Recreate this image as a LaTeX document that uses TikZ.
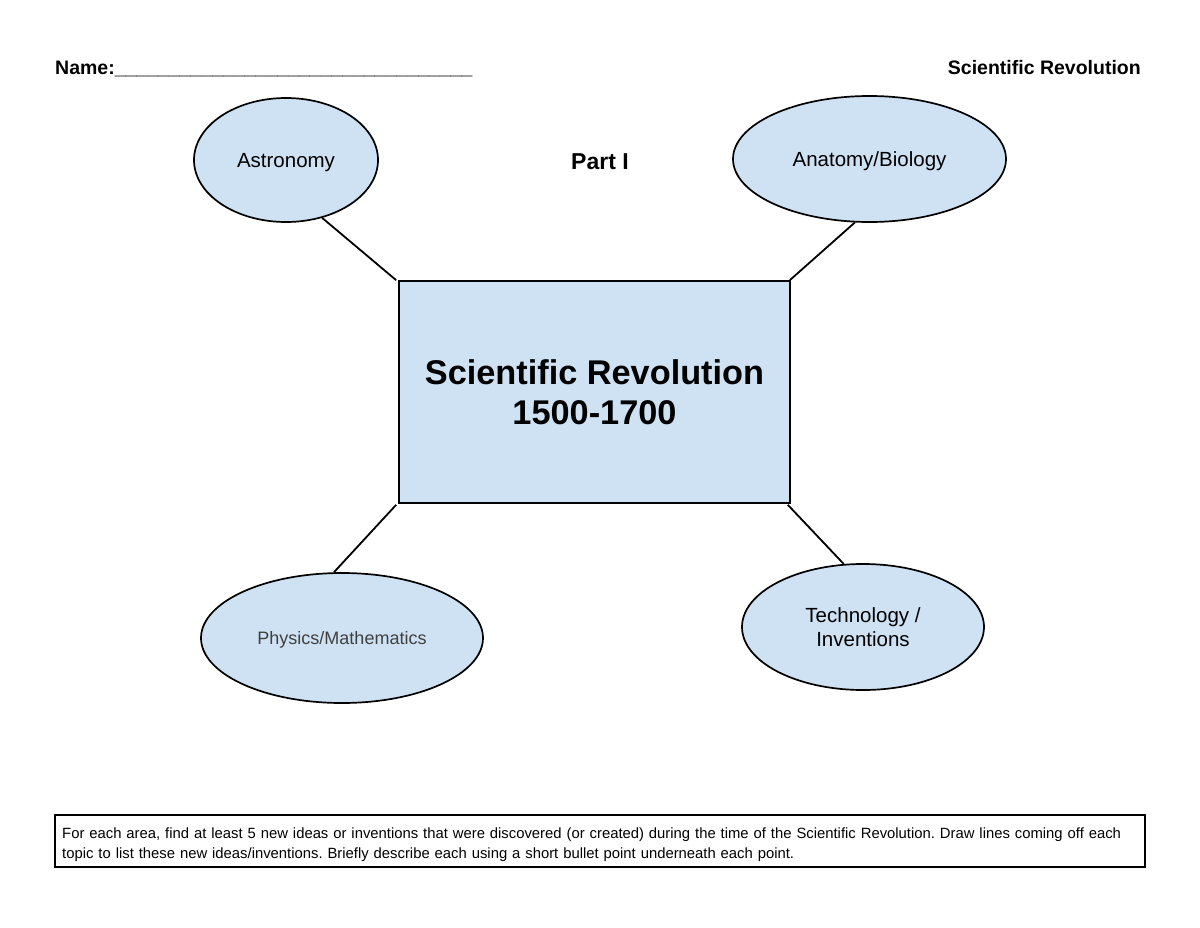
\documentclass[tikz,border=0pt]{standalone}
\usepackage{fontspec}
\setmainfont{Liberation Sans}
\usetikzlibrary{shapes.geometric}
\definecolor{lightblue}{HTML}{CFE2F3}
\frenchspacing
\tikzset{
  topic/.style={ellipse, draw=black, line width=1.7pt, fill=lightblue, inner sep=0pt, align=center,
    text depth=0pt, font=\fontsize{20.5}{24}\selectfont},
  centerbox/.style={rectangle, draw=black, line width=1.7pt, fill=lightblue, align=center,
    font=\fontsize{34.3}{40}\selectfont\bfseries},
  link/.style={line width=1.8pt, black},
  header/.style={inner sep=0pt, font=\fontsize{19.5}{22}\selectfont\bfseries},
  notebox/.style={rectangle, draw=black, line width=1.7pt},
  notetext/.style={inner sep=0pt, align=left, text width=1080, font=\fontsize{14.83}{20}\selectfont}
}
\begin{document}
\begin{tikzpicture}[x=1pt, y=-1pt]
\useasboundingbox (0,0) rectangle (1200,927);

\node[header, anchor=base west] (name) at (55,74)
  {Name:\_\_\_\_\_\_\_\_\_\_\_\_\_\_\_\_\_\_\_\_\_\_\_\_\_\_\_\_\_\_\_\_\_};
\node[header, anchor=base east] (title) at (1141,74) {Scientific Revolution};
\node[inner sep=0pt, anchor=base, font=\fontsize{23}{26}\selectfont\bfseries] (part) at (600,169) {Part I};

\node[centerbox, minimum width=391, minimum height=222] (center) at (594.5,392)
  {Scientific Revolution\\1500-1700};

\node[topic, minimum width=184, minimum height=124] (astro) at (286,160) {Astronomy};
\node[topic, minimum width=273, minimum height=126] (anat) at (869.5,159) {Anatomy/Biology};
\node[topic, minimum width=282, minimum height=130, text=black!75,
  font=\fontsize{18}{22}\selectfont] (phys) at (342,638) {Physics/Mathematics};
\node[topic, minimum width=242, minimum height=126] (tech) at (863,627) {Technology /\\Inventions};

\draw[link] (astro.-58) -- ([shift={(-2,0)}]center.north west);
\draw[link] (anat.-103) -- ([shift={(-1,0)}]center.north east);
\draw[link] (phys.97) -- ([shift={(-2,1)}]center.south west);
\draw[link] (tech.107) -- ([shift={(-3,1)}]center.south east);

\node[notebox, minimum width=1090, minimum height=52] (note) at (600,841) {};
\node[notetext, anchor=north west] (notetext) at (62,827.5)
  {For each area, find at least 5 new ideas or inventions that were discovered (or created) during the time of the Scientific Revolution. Draw lines coming off each\\
   topic to list these new ideas/inventions. Briefly describe each using a short bullet point underneath each point.};
\end{tikzpicture}
\end{document}
